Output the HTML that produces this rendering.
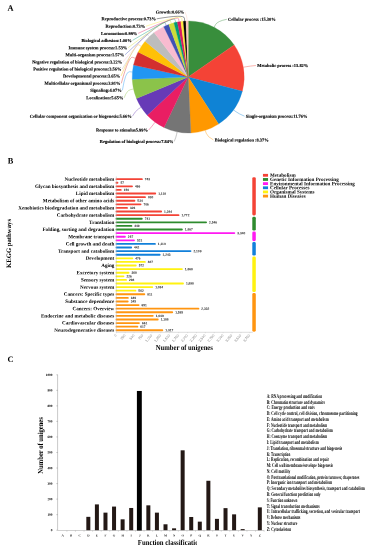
<!DOCTYPE html>
<html><head><meta charset="utf-8"><title>Figure</title>
<style>
html,body{margin:0;padding:0;background:#fff;}
body{width:371px;height:550px;overflow:hidden;}
svg{display:block;text-rendering:geometricPrecision;}
.sf{font-family:"Liberation Serif","DejaVu Serif",serif;}
.ss{font-family:"Liberation Sans","DejaVu Sans",sans-serif;font-weight:bold;}
</style></head><body>
<svg width="371" height="550" viewBox="0 0 371 550">
<rect width="371" height="550" fill="#fff"/>
<text class="sf" x="7.60" y="10.75" font-size="8.3" text-anchor="start" font-weight="bold" fill="#000"  transform="rotate(0.03 7.60 10.75)">A</text>
<text class="sf" x="7.70" y="163.50" font-size="8.3" text-anchor="start" font-weight="bold" fill="#000"  transform="rotate(0.03 7.70 163.50)">B</text>
<text class="sf" x="7.50" y="362.00" font-size="8.3" text-anchor="start" font-weight="bold" fill="#000"  transform="rotate(0.03 7.50 362.00)">C</text>
<path d="M188.2,77.0 L188.20,21.00 A56.0,56.0 0 0 1 234.12,44.94 Z" fill="#388e3c" stroke="#388e3c" stroke-width="0.3" stroke-linejoin="round"/>
<path d="M188.2,77.0 L234.12,44.94 A56.0,56.0 0 0 1 242.33,91.34 Z" fill="#f44336" stroke="#f44336" stroke-width="0.3" stroke-linejoin="round"/>
<path d="M188.2,77.0 L242.33,91.34 A56.0,56.0 0 0 1 218.56,124.05 Z" fill="#0f83d5" stroke="#0f83d5" stroke-width="0.3" stroke-linejoin="round"/>
<path d="M188.2,77.0 L218.56,124.05 A56.0,56.0 0 0 1 190.84,132.94 Z" fill="#ff9800" stroke="#ff9800" stroke-width="0.3" stroke-linejoin="round"/>
<path d="M188.2,77.0 L190.84,132.94 A56.0,56.0 0 0 1 164.07,127.53 Z" fill="#757575" stroke="#757575" stroke-width="0.3" stroke-linejoin="round"/>
<path d="M188.2,77.0 L164.07,127.53 A56.0,56.0 0 0 1 147.19,115.13 Z" fill="#e91e63" stroke="#e91e63" stroke-width="0.3" stroke-linejoin="round"/>
<path d="M188.2,77.0 L147.19,115.13 A56.0,56.0 0 0 1 136.48,98.46 Z" fill="#673ab7" stroke="#673ab7" stroke-width="0.3" stroke-linejoin="round"/>
<path d="M188.2,77.0 L136.48,98.46 A56.0,56.0 0 0 1 132.24,79.15 Z" fill="#8bc34a" stroke="#8bc34a" stroke-width="0.3" stroke-linejoin="round"/>
<path d="M188.2,77.0 L132.24,79.15 A56.0,56.0 0 0 1 133.52,64.92 Z" fill="#2196f3" stroke="#2196f3" stroke-width="0.3" stroke-linejoin="round"/>
<path d="M188.2,77.0 L133.52,64.92 A56.0,56.0 0 0 1 138.10,51.98 Z" fill="#d32f2f" stroke="#d32f2f" stroke-width="0.3" stroke-linejoin="round"/>
<path d="M188.2,77.0 L138.10,51.98 A56.0,56.0 0 0 1 145.10,41.25 Z" fill="#ffc107" stroke="#ffc107" stroke-width="0.3" stroke-linejoin="round"/>
<path d="M188.2,77.0 L145.10,41.25 A56.0,56.0 0 0 1 154.10,32.58 Z" fill="#bdbdbd" stroke="#bdbdbd" stroke-width="0.3" stroke-linejoin="round"/>
<path d="M188.2,77.0 L154.10,32.58 A56.0,56.0 0 0 1 163.72,26.63 Z" fill="#f8bbd0" stroke="#f8bbd0" stroke-width="0.3" stroke-linejoin="round"/>
<path d="M188.2,77.0 L163.72,26.63 A56.0,56.0 0 0 1 168.80,24.47 Z" fill="#3f51b5" stroke="#3f51b5" stroke-width="0.3" stroke-linejoin="round"/>
<path d="M188.2,77.0 L168.80,24.47 A56.0,56.0 0 0 1 173.93,22.85 Z" fill="#cddc39" stroke="#cddc39" stroke-width="0.3" stroke-linejoin="round"/>
<path d="M188.2,77.0 L173.93,22.85 A56.0,56.0 0 0 1 177.36,22.06 Z" fill="#009b77" stroke="#009b77" stroke-width="0.3" stroke-linejoin="round"/>
<path d="M188.2,77.0 L177.36,22.06 A56.0,56.0 0 0 1 180.80,21.49 Z" fill="#d81b60" stroke="#d81b60" stroke-width="0.3" stroke-linejoin="round"/>
<path d="M188.2,77.0 L180.80,21.49 A56.0,56.0 0 0 1 183.35,21.21 Z" fill="#ffeb3b" stroke="#ffeb3b" stroke-width="0.3" stroke-linejoin="round"/>
<path d="M188.2,77.0 L183.35,21.21 A56.0,56.0 0 0 1 185.91,21.05 Z" fill="#000000" stroke="#000000" stroke-width="0.3" stroke-linejoin="round"/>
<path d="M188.2,77.0 L185.91,21.05 A56.0,56.0 0 0 1 188.24,21.00 Z" fill="#f9c9bb" stroke="#f9c9bb" stroke-width="0.3" stroke-linejoin="round"/>
<text class="sf" x="228.10" y="20.75" font-size="4.45" text-anchor="start" font-weight="bold" fill="#000" stroke="#000" stroke-width="0.12" transform="rotate(0.03 228.10 20.75)">Cellular process :15.30%</text>
<path d="M214.19,27.17 L215.48,24.69 Q217.33,21.14 226.80,19.30" fill="none" stroke="#388e3c" stroke-width="0.4"/>
<text class="sf" x="257.20" y="67.00" font-size="4.45" text-anchor="start" font-weight="bold" fill="#000" stroke="#000" stroke-width="0.12" transform="rotate(0.03 257.20 67.00)">Metabolic process :13.82%</text>
<path d="M243.54,67.20 L246.30,66.71 Q250.10,66.04 255.90,65.50" fill="none" stroke="#f44336" stroke-width="0.4"/>
<text class="sf" x="245.80" y="117.75" font-size="4.45" text-anchor="start" font-weight="bold" fill="#000" stroke="#000" stroke-width="0.12" transform="rotate(0.03 245.80 117.75)">Single-organism process:11.76%</text>
<path d="M233.67,110.03 L235.93,111.68 Q239.05,113.95 244.50,116.20" fill="none" stroke="#0f83d5" stroke-width="0.4"/>
<text class="sf" x="214.70" y="141.50" font-size="4.45" text-anchor="start" font-weight="bold" fill="#000" stroke="#000" stroke-width="0.12" transform="rotate(0.03 214.70 141.50)">Biological regulation :8.37%</text>
<path d="M205.35,130.52 L206.20,133.19 Q207.36,136.80 213.40,139.90" fill="none" stroke="#ff9800" stroke-width="0.4"/>
<text class="sf" x="173.40" y="143.00" font-size="4.45" text-anchor="end" font-weight="bold" fill="#000" stroke="#000" stroke-width="0.12" transform="rotate(0.03 173.40 143.00)">Regulation of biological process:7.84%</text>
<path d="M177.08,132.09 L176.63,134.30 Q176.05,137.20 174.20,141.50" fill="none" stroke="#757575" stroke-width="0.4"/>
<text class="sf" x="147.90" y="131.50" font-size="4.45" text-anchor="end" font-weight="bold" fill="#000" stroke="#000" stroke-width="0.12" transform="rotate(0.03 147.90 131.50)">Response to stimulus5.99%</text>
<path d="M154.92,122.29 L153.58,124.12 Q151.82,126.52 148.70,130.00" fill="none" stroke="#e91e63" stroke-width="0.4"/>
<text class="sf" x="131.60" y="117.75" font-size="4.45" text-anchor="end" font-weight="bold" fill="#000" stroke="#000" stroke-width="0.12" transform="rotate(0.03 131.60 117.75)">Cellular component organization or biogenesis:5.66%</text>
<path d="M140.92,107.38 L138.56,108.89 Q135.41,110.92 132.40,116.20" fill="none" stroke="#673ab7" stroke-width="0.4"/>
<text class="sf" x="123.40" y="99.25" font-size="4.45" text-anchor="end" font-weight="bold" fill="#000" stroke="#000" stroke-width="0.12" transform="rotate(0.03 123.40 99.25)">Localization:5.65%</text>
<path d="M133.30,89.04 L130.57,89.64 Q126.71,90.48 124.20,97.80" fill="none" stroke="#8bc34a" stroke-width="0.4"/>
<text class="sf" x="121.60" y="91.75" font-size="4.45" text-anchor="end" font-weight="bold" fill="#000" stroke="#000" stroke-width="0.12" transform="rotate(0.03 121.60 91.75)">Signaling:4.07%</text>
<path d="M132.23,71.97 L129.44,71.72 Q125.45,71.37 122.40,90.30" fill="none" stroke="#2196f3" stroke-width="0.4"/>
<text class="sf" x="120.50" y="84.75" font-size="4.45" text-anchor="end" font-weight="bold" fill="#000" stroke="#000" stroke-width="0.12" transform="rotate(0.03 120.50 84.75)">Multicellular organismal process:3.91%</text>
<path d="M135.22,58.25 L132.58,57.31 Q128.81,55.98 121.30,83.30" fill="none" stroke="#d32f2f" stroke-width="0.4"/>
<text class="sf" x="120.20" y="77.50" font-size="4.45" text-anchor="end" font-weight="bold" fill="#000" stroke="#000" stroke-width="0.12" transform="rotate(0.03 120.20 77.50)">Developmental process:3.65%</text>
<path d="M141.12,46.31 L138.78,44.78 Q135.42,42.59 121.00,76.00" fill="none" stroke="#ffc107" stroke-width="0.4"/>
<text class="sf" x="121.40" y="70.50" font-size="4.45" text-anchor="end" font-weight="bold" fill="#000" stroke="#000" stroke-width="0.12" transform="rotate(0.03 121.40 70.50)">Positive regulation of biological process:3.56%</text>
<path d="M149.22,36.52 L147.27,34.50 Q144.50,31.62 122.20,69.00" fill="none" stroke="#bdbdbd" stroke-width="0.4"/>
<text class="sf" x="122.10" y="63.50" font-size="4.45" text-anchor="end" font-weight="bold" fill="#000" stroke="#000" stroke-width="0.12" transform="rotate(0.03 122.10 63.50)">Negative regulation of biological process:3.22%</text>
<path d="M158.66,29.19 L157.18,26.81 Q155.08,23.41 122.90,62.00" fill="none" stroke="#f8bbd0" stroke-width="0.4"/>
<text class="sf" x="124.20" y="56.25" font-size="4.45" text-anchor="end" font-weight="bold" fill="#000" stroke="#000" stroke-width="0.12" transform="rotate(0.03 124.20 56.25)">Multi-organism process:1.57%</text>
<path d="M166.16,25.30 L165.06,22.73 Q163.49,19.05 125.00,54.80" fill="none" stroke="#3f51b5" stroke-width="0.4"/>
<text class="sf" x="127.30" y="49.25" font-size="4.45" text-anchor="end" font-weight="bold" fill="#000" stroke="#000" stroke-width="0.12" transform="rotate(0.03 127.30 49.25)">Immune system process:1.53%</text>
<path d="M171.29,23.41 L170.44,20.74 Q169.24,16.92 128.10,47.70" fill="none" stroke="#cddc39" stroke-width="0.4"/>
<text class="sf" x="131.70" y="42.00" font-size="4.45" text-anchor="end" font-weight="bold" fill="#000" stroke="#000" stroke-width="0.12" transform="rotate(0.03 131.70 42.00)">Biological adhesion:1.00%</text>
<path d="M175.60,22.23 L174.97,19.50 Q174.07,15.60 132.50,40.40" fill="none" stroke="#009b77" stroke-width="0.4"/>
<text class="sf" x="137.30" y="35.00" font-size="4.45" text-anchor="end" font-weight="bold" fill="#000" stroke="#000" stroke-width="0.12" transform="rotate(0.03 137.30 35.00)">Locomotion:0.99%</text>
<path d="M179.04,21.55 L178.59,18.79 Q177.93,14.84 138.10,33.40" fill="none" stroke="#d81b60" stroke-width="0.4"/>
<text class="sf" x="145.20" y="27.75" font-size="4.45" text-anchor="end" font-weight="bold" fill="#000" stroke="#000" stroke-width="0.12" transform="rotate(0.03 145.20 27.75)">Reproduction:0.73%</text>
<path d="M182.05,21.14 L181.74,18.35 Q181.31,14.38 146.00,26.20" fill="none" stroke="#ffeb3b" stroke-width="0.4"/>
<text class="sf" x="155.90" y="20.25" font-size="4.45" text-anchor="end" font-weight="bold" fill="#000" stroke="#000" stroke-width="0.12" transform="rotate(0.03 155.90 20.25)">Reproductive process:0.73%</text>
<path d="M184.62,20.91 L184.44,18.12 Q184.18,14.13 156.70,18.80" fill="none" stroke="#000000" stroke-width="0.4"/>
<text class="sf" x="184.10" y="13.50" font-size="4.45" text-anchor="end" font-weight="bold" fill="#000" stroke="#000" stroke-width="0.12" transform="rotate(0.03 184.10 13.50)">Growth:0.66%</text>
<path d="M187.07,20.81 L187.03,18.74 Q186.97,16.02 184.90,12.00" fill="none" stroke="#f9c9bb" stroke-width="0.4"/>
<line x1="116.50" y1="179.15" x2="141.88" y2="179.15" stroke="#f44336" stroke-width="1.85" stroke-linecap="round"/>
<text class="ss" x="144.80" y="180.25" font-size="3.2" text-anchor="start" font-weight="bold" fill="#222"  transform="rotate(0.03 144.80 180.25)">743</text>
<text class="sf" x="114.30" y="180.75" font-size="5.12" text-anchor="end" font-weight="bold" fill="#000"  transform="rotate(0.03 114.30 180.75)">Nucleotide metabolism</text>
<line x1="116.50" y1="182.75" x2="117.45" y2="182.75" stroke="#f44336" stroke-width="1.85" stroke-linecap="round"/>
<text class="ss" x="120.38" y="183.75" font-size="3.2" text-anchor="start" font-weight="bold" fill="#222"  transform="rotate(0.03 120.38 183.75)">57</text>
<line x1="116.50" y1="186.35" x2="132.01" y2="186.35" stroke="#f44336" stroke-width="1.85" stroke-linecap="round"/>
<text class="ss" x="134.94" y="187.50" font-size="3.2" text-anchor="start" font-weight="bold" fill="#222"  transform="rotate(0.03 134.94 187.50)">466</text>
<text class="sf" x="114.30" y="188.00" font-size="5.12" text-anchor="end" font-weight="bold" fill="#000"  transform="rotate(0.03 114.30 188.00)">Glycan biosynthesis and metabolism</text>
<line x1="116.50" y1="189.94" x2="120.77" y2="189.94" stroke="#f44336" stroke-width="1.85" stroke-linecap="round"/>
<text class="ss" x="123.69" y="191.00" font-size="3.2" text-anchor="start" font-weight="bold" fill="#222"  transform="rotate(0.03 123.69 191.00)">150</text>
<line x1="116.50" y1="193.54" x2="155.23" y2="193.54" stroke="#f44336" stroke-width="1.85" stroke-linecap="round"/>
<text class="ss" x="158.15" y="194.75" font-size="3.2" text-anchor="start" font-weight="bold" fill="#222"  transform="rotate(0.03 158.15 194.75)">1,118</text>
<text class="sf" x="114.30" y="195.00" font-size="5.12" text-anchor="end" font-weight="bold" fill="#000"  transform="rotate(0.03 114.30 195.00)">Lipid metabolism</text>
<line x1="116.50" y1="197.14" x2="144.97" y2="197.14" stroke="#f44336" stroke-width="1.85" stroke-linecap="round"/>
<text class="ss" x="147.90" y="198.25" font-size="3.2" text-anchor="start" font-weight="bold" fill="#222"  transform="rotate(0.03 147.90 198.25)">830</text>
<line x1="116.50" y1="200.74" x2="134.44" y2="200.74" stroke="#f44336" stroke-width="1.85" stroke-linecap="round"/>
<text class="ss" x="137.36" y="201.75" font-size="3.2" text-anchor="start" font-weight="bold" fill="#222"  transform="rotate(0.03 137.36 201.75)">534</text>
<text class="sf" x="114.30" y="202.25" font-size="5.12" text-anchor="end" font-weight="bold" fill="#000"  transform="rotate(0.03 114.30 202.25)">Metabolism of other amino acids</text>
<line x1="116.50" y1="204.34" x2="140.56" y2="204.34" stroke="#f44336" stroke-width="1.85" stroke-linecap="round"/>
<text class="ss" x="143.48" y="205.50" font-size="3.2" text-anchor="start" font-weight="bold" fill="#222"  transform="rotate(0.03 143.48 205.50)">706</text>
<line x1="116.50" y1="207.93" x2="127.03" y2="207.93" stroke="#f44336" stroke-width="1.85" stroke-linecap="round"/>
<text class="ss" x="129.96" y="209.00" font-size="3.2" text-anchor="start" font-weight="bold" fill="#222"  transform="rotate(0.03 129.96 209.00)">326</text>
<text class="sf" x="114.30" y="209.50" font-size="5.12" text-anchor="end" font-weight="bold" fill="#000"  transform="rotate(0.03 114.30 209.50)">Xenobiotics biodegradation and metabolism</text>
<line x1="116.50" y1="211.53" x2="161.14" y2="211.53" stroke="#f44336" stroke-width="1.85" stroke-linecap="round"/>
<text class="ss" x="164.06" y="212.75" font-size="3.2" text-anchor="start" font-weight="bold" fill="#222"  transform="rotate(0.03 164.06 212.75)">1,284</text>
<line x1="116.50" y1="215.13" x2="178.51" y2="215.13" stroke="#f44336" stroke-width="1.85" stroke-linecap="round"/>
<text class="ss" x="181.43" y="216.25" font-size="3.2" text-anchor="start" font-weight="bold" fill="#222"  transform="rotate(0.03 181.43 216.25)">1,772</text>
<text class="sf" x="114.30" y="216.75" font-size="5.12" text-anchor="end" font-weight="bold" fill="#000"  transform="rotate(0.03 114.30 216.75)">Carbohydrate metabolism</text>
<line x1="116.50" y1="218.73" x2="141.80" y2="218.73" stroke="#2e8b2e" stroke-width="1.85" stroke-linecap="round"/>
<text class="ss" x="144.73" y="219.75" font-size="3.2" text-anchor="start" font-weight="bold" fill="#222"  transform="rotate(0.03 144.73 219.75)">741</text>
<line x1="116.50" y1="222.33" x2="206.06" y2="222.33" stroke="#2e8b2e" stroke-width="1.85" stroke-linecap="round"/>
<text class="ss" x="208.99" y="223.50" font-size="3.2" text-anchor="start" font-weight="bold" fill="#222"  transform="rotate(0.03 208.99 223.50)">2,546</text>
<text class="sf" x="114.30" y="224.00" font-size="5.12" text-anchor="end" font-weight="bold" fill="#000"  transform="rotate(0.03 114.30 224.00)">Translation</text>
<line x1="116.50" y1="225.92" x2="131.41" y2="225.92" stroke="#2e8b2e" stroke-width="1.85" stroke-linecap="round"/>
<text class="ss" x="134.33" y="227.00" font-size="3.2" text-anchor="start" font-weight="bold" fill="#222"  transform="rotate(0.03 134.33 227.00)">449</text>
<line x1="116.50" y1="229.52" x2="181.89" y2="229.52" stroke="#2e8b2e" stroke-width="1.85" stroke-linecap="round"/>
<text class="ss" x="184.82" y="230.50" font-size="3.2" text-anchor="start" font-weight="bold" fill="#222"  transform="rotate(0.03 184.82 230.50)">1,867</text>
<text class="sf" x="114.30" y="231.00" font-size="5.12" text-anchor="end" font-weight="bold" fill="#000"  transform="rotate(0.03 114.30 231.00)">Folding, sorting and degradation</text>
<line x1="116.50" y1="233.12" x2="234.33" y2="233.12" stroke="#ff1af2" stroke-width="1.85" stroke-linecap="round"/>
<text class="ss" x="237.25" y="234.25" font-size="3.2" text-anchor="start" font-weight="bold" fill="#222"  transform="rotate(0.03 237.25 234.25)">3,340</text>
<line x1="116.50" y1="236.72" x2="124.93" y2="236.72" stroke="#ff1af2" stroke-width="1.85" stroke-linecap="round"/>
<text class="ss" x="127.86" y="237.75" font-size="3.2" text-anchor="start" font-weight="bold" fill="#222"  transform="rotate(0.03 127.86 237.75)">267</text>
<text class="sf" x="114.30" y="238.25" font-size="5.12" text-anchor="end" font-weight="bold" fill="#000"  transform="rotate(0.03 114.30 238.25)">Membrane transport</text>
<line x1="116.50" y1="240.32" x2="133.97" y2="240.32" stroke="#ff1af2" stroke-width="1.85" stroke-linecap="round"/>
<text class="ss" x="136.90" y="241.50" font-size="3.2" text-anchor="start" font-weight="bold" fill="#222"  transform="rotate(0.03 136.90 241.50)">521</text>
<line x1="116.50" y1="243.91" x2="154.94" y2="243.91" stroke="#1280da" stroke-width="1.85" stroke-linecap="round"/>
<text class="ss" x="157.87" y="245.00" font-size="3.2" text-anchor="start" font-weight="bold" fill="#222"  transform="rotate(0.03 157.87 245.00)">1,110</text>
<text class="sf" x="114.30" y="245.50" font-size="5.12" text-anchor="end" font-weight="bold" fill="#000"  transform="rotate(0.03 114.30 245.50)">Cell growth and death</text>
<line x1="116.50" y1="247.51" x2="131.16" y2="247.51" stroke="#1280da" stroke-width="1.85" stroke-linecap="round"/>
<text class="ss" x="134.09" y="248.50" font-size="3.2" text-anchor="start" font-weight="bold" fill="#222"  transform="rotate(0.03 134.09 248.50)">442</text>
<line x1="116.50" y1="251.11" x2="190.51" y2="251.11" stroke="#1280da" stroke-width="1.85" stroke-linecap="round"/>
<text class="ss" x="193.43" y="252.25" font-size="3.2" text-anchor="start" font-weight="bold" fill="#222"  transform="rotate(0.03 193.43 252.25)">2,109</text>
<text class="sf" x="114.30" y="252.75" font-size="5.12" text-anchor="end" font-weight="bold" fill="#000"  transform="rotate(0.03 114.30 252.75)">Transport and catabolism</text>
<line x1="116.50" y1="254.71" x2="159.68" y2="254.71" stroke="#1280da" stroke-width="1.85" stroke-linecap="round"/>
<text class="ss" x="162.60" y="255.75" font-size="3.2" text-anchor="start" font-weight="bold" fill="#222"  transform="rotate(0.03 162.60 255.75)">1,243</text>
<line x1="116.50" y1="258.31" x2="132.37" y2="258.31" stroke="#fff210" stroke-width="1.85" stroke-linecap="round"/>
<text class="ss" x="135.30" y="259.50" font-size="3.2" text-anchor="start" font-weight="bold" fill="#222"  transform="rotate(0.03 135.30 259.50)">476</text>
<text class="sf" x="114.30" y="259.75" font-size="5.12" text-anchor="end" font-weight="bold" fill="#000"  transform="rotate(0.03 114.30 259.75)">Development</text>
<line x1="116.50" y1="261.90" x2="144.87" y2="261.90" stroke="#fff210" stroke-width="1.85" stroke-linecap="round"/>
<text class="ss" x="147.79" y="263.00" font-size="3.2" text-anchor="start" font-weight="bold" fill="#222"  transform="rotate(0.03 147.79 263.00)">827</text>
<line x1="116.50" y1="265.50" x2="135.79" y2="265.50" stroke="#fff210" stroke-width="1.85" stroke-linecap="round"/>
<text class="ss" x="138.71" y="266.50" font-size="3.2" text-anchor="start" font-weight="bold" fill="#222"  transform="rotate(0.03 138.71 266.50)">572</text>
<text class="sf" x="114.30" y="267.00" font-size="5.12" text-anchor="end" font-weight="bold" fill="#000"  transform="rotate(0.03 114.30 267.00)">Aging</text>
<line x1="116.50" y1="269.10" x2="181.93" y2="269.10" stroke="#fff210" stroke-width="1.85" stroke-linecap="round"/>
<text class="ss" x="184.85" y="270.25" font-size="3.2" text-anchor="start" font-weight="bold" fill="#222"  transform="rotate(0.03 184.85 270.25)">1,868</text>
<line x1="116.50" y1="272.70" x2="128.53" y2="272.70" stroke="#fff210" stroke-width="1.85" stroke-linecap="round"/>
<text class="ss" x="131.45" y="273.75" font-size="3.2" text-anchor="start" font-weight="bold" fill="#222"  transform="rotate(0.03 131.45 273.75)">368</text>
<text class="sf" x="114.30" y="274.25" font-size="5.12" text-anchor="end" font-weight="bold" fill="#000"  transform="rotate(0.03 114.30 274.25)">Excretory system</text>
<line x1="116.50" y1="276.30" x2="123.47" y2="276.30" stroke="#fff210" stroke-width="1.85" stroke-linecap="round"/>
<text class="ss" x="126.40" y="277.50" font-size="3.2" text-anchor="start" font-weight="bold" fill="#222"  transform="rotate(0.03 126.40 277.50)">226</text>
<line x1="116.50" y1="279.89" x2="126.03" y2="279.89" stroke="#fff210" stroke-width="1.85" stroke-linecap="round"/>
<text class="ss" x="128.96" y="281.00" font-size="3.2" text-anchor="start" font-weight="bold" fill="#222"  transform="rotate(0.03 128.96 281.00)">298</text>
<text class="sf" x="114.30" y="281.50" font-size="5.12" text-anchor="end" font-weight="bold" fill="#000"  transform="rotate(0.03 114.30 281.50)">Sensory system</text>
<line x1="116.50" y1="283.49" x2="182.99" y2="283.49" stroke="#fff210" stroke-width="1.85" stroke-linecap="round"/>
<text class="ss" x="185.92" y="284.50" font-size="3.2" text-anchor="start" font-weight="bold" fill="#222"  transform="rotate(0.03 185.92 284.50)">1,898</text>
<line x1="116.50" y1="287.09" x2="152.24" y2="287.09" stroke="#fff210" stroke-width="1.85" stroke-linecap="round"/>
<text class="ss" x="155.16" y="288.25" font-size="3.2" text-anchor="start" font-weight="bold" fill="#222"  transform="rotate(0.03 155.16 288.25)">1,034</text>
<text class="sf" x="114.30" y="288.75" font-size="5.12" text-anchor="end" font-weight="bold" fill="#000"  transform="rotate(0.03 114.30 288.75)">Nervous system</text>
<line x1="116.50" y1="290.69" x2="135.43" y2="290.69" stroke="#fff210" stroke-width="1.85" stroke-linecap="round"/>
<text class="ss" x="138.36" y="291.75" font-size="3.2" text-anchor="start" font-weight="bold" fill="#222"  transform="rotate(0.03 138.36 291.75)">562</text>
<line x1="116.50" y1="294.29" x2="144.30" y2="294.29" stroke="#ff9510" stroke-width="1.85" stroke-linecap="round"/>
<text class="ss" x="147.22" y="295.50" font-size="3.2" text-anchor="start" font-weight="bold" fill="#222"  transform="rotate(0.03 147.22 295.50)">811</text>
<text class="sf" x="114.30" y="295.75" font-size="5.12" text-anchor="end" font-weight="bold" fill="#000"  transform="rotate(0.03 114.30 295.75)">Cancers: Specific types</text>
<line x1="116.50" y1="297.88" x2="127.85" y2="297.88" stroke="#ff9510" stroke-width="1.85" stroke-linecap="round"/>
<text class="ss" x="130.77" y="299.00" font-size="3.2" text-anchor="start" font-weight="bold" fill="#222"  transform="rotate(0.03 130.77 299.00)">349</text>
<line x1="116.50" y1="301.48" x2="127.71" y2="301.48" stroke="#ff9510" stroke-width="1.85" stroke-linecap="round"/>
<text class="ss" x="130.63" y="302.50" font-size="3.2" text-anchor="start" font-weight="bold" fill="#222"  transform="rotate(0.03 130.63 302.50)">345</text>
<text class="sf" x="114.30" y="303.00" font-size="5.12" text-anchor="end" font-weight="bold" fill="#000"  transform="rotate(0.03 114.30 303.00)">Substance dependence</text>
<line x1="116.50" y1="305.08" x2="138.60" y2="305.08" stroke="#ff9510" stroke-width="1.85" stroke-linecap="round"/>
<text class="ss" x="141.53" y="306.25" font-size="3.2" text-anchor="start" font-weight="bold" fill="#222"  transform="rotate(0.03 141.53 306.25)">651</text>
<line x1="116.50" y1="308.68" x2="198.44" y2="308.68" stroke="#ff9510" stroke-width="1.85" stroke-linecap="round"/>
<text class="ss" x="201.37" y="309.75" font-size="3.2" text-anchor="start" font-weight="bold" fill="#222"  transform="rotate(0.03 201.37 309.75)">2,332</text>
<text class="sf" x="114.30" y="310.25" font-size="5.12" text-anchor="end" font-weight="bold" fill="#000"  transform="rotate(0.03 114.30 310.25)">Cancers: Overview</text>
<line x1="116.50" y1="312.28" x2="172.21" y2="312.28" stroke="#ff9510" stroke-width="1.85" stroke-linecap="round"/>
<text class="ss" x="175.13" y="313.50" font-size="3.2" text-anchor="start" font-weight="bold" fill="#222"  transform="rotate(0.03 175.13 313.50)">1,595</text>
<line x1="116.50" y1="315.87" x2="152.77" y2="315.87" stroke="#ff9510" stroke-width="1.85" stroke-linecap="round"/>
<text class="ss" x="155.69" y="317.00" font-size="3.2" text-anchor="start" font-weight="bold" fill="#222"  transform="rotate(0.03 155.69 317.00)">1,049</text>
<text class="sf" x="114.30" y="317.50" font-size="5.12" text-anchor="end" font-weight="bold" fill="#000"  transform="rotate(0.03 114.30 317.50)">Endocrine and metabolic diseases</text>
<line x1="116.50" y1="319.47" x2="157.72" y2="319.47" stroke="#ff9510" stroke-width="1.85" stroke-linecap="round"/>
<text class="ss" x="160.64" y="320.50" font-size="3.2" text-anchor="start" font-weight="bold" fill="#222"  transform="rotate(0.03 160.64 320.50)">1,188</text>
<line x1="116.50" y1="323.07" x2="138.96" y2="323.07" stroke="#ff9510" stroke-width="1.85" stroke-linecap="round"/>
<text class="ss" x="141.88" y="324.25" font-size="3.2" text-anchor="start" font-weight="bold" fill="#222"  transform="rotate(0.03 141.88 324.25)">661</text>
<text class="sf" x="114.30" y="324.50" font-size="5.12" text-anchor="end" font-weight="bold" fill="#000"  transform="rotate(0.03 114.30 324.50)">Cardiovascular diseases</text>
<line x1="116.50" y1="326.67" x2="137.39" y2="326.67" stroke="#ff9510" stroke-width="1.85" stroke-linecap="round"/>
<text class="ss" x="140.32" y="327.75" font-size="3.2" text-anchor="start" font-weight="bold" fill="#222"  transform="rotate(0.03 140.32 327.75)">617</text>
<line x1="116.50" y1="330.27" x2="162.31" y2="330.27" stroke="#ff9510" stroke-width="1.85" stroke-linecap="round"/>
<text class="ss" x="165.24" y="331.25" font-size="3.2" text-anchor="start" font-weight="bold" fill="#222"  transform="rotate(0.03 165.24 331.25)">1,317</text>
<text class="sf" x="114.30" y="331.75" font-size="5.12" text-anchor="end" font-weight="bold" fill="#000"  transform="rotate(0.03 114.30 331.75)">Neurodegenerative diseases</text>
<line x1="116.3" y1="176.5" x2="116.3" y2="332.3" stroke="#b5b5b5" stroke-width="0.45"/>
<line x1="116.3" y1="332.3" x2="252.8" y2="332.3" stroke="#b5b5b5" stroke-width="0.45"/>
<line x1="116.35" y1="332.3" x2="116.35" y2="333.2" stroke="#b5b5b5" stroke-width="0.35"/>
<text class="ss" font-size="3.5" style="font-weight:normal" fill="#777" text-anchor="end" transform="translate(116.85,335.60) rotate(-50)">0</text>
<line x1="125.25" y1="332.3" x2="125.25" y2="333.2" stroke="#b5b5b5" stroke-width="0.35"/>
<text class="ss" font-size="3.5" style="font-weight:normal" fill="#777" text-anchor="end" transform="translate(125.75,335.60) rotate(-50)">250</text>
<line x1="134.15" y1="332.3" x2="134.15" y2="333.2" stroke="#b5b5b5" stroke-width="0.35"/>
<text class="ss" font-size="3.5" style="font-weight:normal" fill="#777" text-anchor="end" transform="translate(134.65,335.60) rotate(-50)">500</text>
<line x1="143.05" y1="332.3" x2="143.05" y2="333.2" stroke="#b5b5b5" stroke-width="0.35"/>
<text class="ss" font-size="3.5" style="font-weight:normal" fill="#777" text-anchor="end" transform="translate(143.55,335.60) rotate(-50)">750</text>
<line x1="151.95" y1="332.3" x2="151.95" y2="333.2" stroke="#b5b5b5" stroke-width="0.35"/>
<text class="ss" font-size="3.5" style="font-weight:normal" fill="#777" text-anchor="end" transform="translate(152.45,335.60) rotate(-50)">1,000</text>
<line x1="160.85" y1="332.3" x2="160.85" y2="333.2" stroke="#b5b5b5" stroke-width="0.35"/>
<text class="ss" font-size="3.5" style="font-weight:normal" fill="#777" text-anchor="end" transform="translate(161.35,335.60) rotate(-50)">1,250</text>
<line x1="169.75" y1="332.3" x2="169.75" y2="333.2" stroke="#b5b5b5" stroke-width="0.35"/>
<text class="ss" font-size="3.5" style="font-weight:normal" fill="#777" text-anchor="end" transform="translate(170.25,335.60) rotate(-50)">1,500</text>
<line x1="178.65" y1="332.3" x2="178.65" y2="333.2" stroke="#b5b5b5" stroke-width="0.35"/>
<text class="ss" font-size="3.5" style="font-weight:normal" fill="#777" text-anchor="end" transform="translate(179.15,335.60) rotate(-50)">1,750</text>
<line x1="187.55" y1="332.3" x2="187.55" y2="333.2" stroke="#b5b5b5" stroke-width="0.35"/>
<text class="ss" font-size="3.5" style="font-weight:normal" fill="#777" text-anchor="end" transform="translate(188.05,335.60) rotate(-50)">2,000</text>
<line x1="196.45" y1="332.3" x2="196.45" y2="333.2" stroke="#b5b5b5" stroke-width="0.35"/>
<text class="ss" font-size="3.5" style="font-weight:normal" fill="#777" text-anchor="end" transform="translate(196.95,335.60) rotate(-50)">2,250</text>
<line x1="205.35" y1="332.3" x2="205.35" y2="333.2" stroke="#b5b5b5" stroke-width="0.35"/>
<text class="ss" font-size="3.5" style="font-weight:normal" fill="#777" text-anchor="end" transform="translate(205.85,335.60) rotate(-50)">2,500</text>
<line x1="214.25" y1="332.3" x2="214.25" y2="333.2" stroke="#b5b5b5" stroke-width="0.35"/>
<text class="ss" font-size="3.5" style="font-weight:normal" fill="#777" text-anchor="end" transform="translate(214.75,335.60) rotate(-50)">2,750</text>
<line x1="223.15" y1="332.3" x2="223.15" y2="333.2" stroke="#b5b5b5" stroke-width="0.35"/>
<text class="ss" font-size="3.5" style="font-weight:normal" fill="#777" text-anchor="end" transform="translate(223.65,335.60) rotate(-50)">3,000</text>
<line x1="232.05" y1="332.3" x2="232.05" y2="333.2" stroke="#b5b5b5" stroke-width="0.35"/>
<text class="ss" font-size="3.5" style="font-weight:normal" fill="#777" text-anchor="end" transform="translate(232.55,335.60) rotate(-50)">3,250</text>
<line x1="240.95" y1="332.3" x2="240.95" y2="333.2" stroke="#b5b5b5" stroke-width="0.35"/>
<text class="ss" font-size="3.5" style="font-weight:normal" fill="#777" text-anchor="end" transform="translate(241.45,335.60) rotate(-50)">3,500</text>
<line x1="249.85" y1="332.3" x2="249.85" y2="333.2" stroke="#b5b5b5" stroke-width="0.35"/>
<text class="ss" font-size="3.5" style="font-weight:normal" fill="#777" text-anchor="end" transform="translate(250.35,335.60) rotate(-50)">3,750</text>
<text class="sf" x="184.30" y="349.90" font-size="7.7" text-anchor="middle" font-weight="bold" fill="#000" textLength="57.20" lengthAdjust="spacingAndGlyphs" >Number of unigenes</text>
<text class="sf" font-size="6.7" font-weight="bold" text-anchor="middle" transform="translate(10.7,243.5) rotate(-90)" textLength="49" lengthAdjust="spacingAndGlyphs">KEGG pathways</text>
<rect x="252.3" y="177.2" width="3.5" height="38.30" rx="1.4" ry="1.4" fill="#f44336"/>
<rect x="252.3" y="216.8" width="3.5" height="13.80" rx="1.4" ry="1.4" fill="#2e8b2e"/>
<rect x="252.3" y="231.5" width="3.5" height="9.70" rx="1.4" ry="1.4" fill="#ff1af2"/>
<rect x="252.3" y="242.1" width="3.5" height="13.50" rx="1.4" ry="1.4" fill="#1280da"/>
<rect x="252.3" y="256.6" width="3.5" height="35.50" rx="1.4" ry="1.4" fill="#fff210"/>
<rect x="252.3" y="293.0" width="3.5" height="38.70" rx="1.4" ry="1.4" fill="#ff9510"/>
<rect x="262.95" y="173.90" width="5.1" height="2.8" fill="#f44336"/>
<text class="sf" x="270.00" y="176.75" font-size="5.08" text-anchor="start" font-weight="bold" fill="#000"  transform="rotate(0.03 270.00 176.75)">Metabolism</text>
<rect x="262.95" y="178.06" width="5.1" height="2.8" fill="#2e8b2e"/>
<text class="sf" x="270.00" y="181.00" font-size="5.08" text-anchor="start" font-weight="bold" fill="#000"  transform="rotate(0.03 270.00 181.00)">Genetic Information Processing</text>
<rect x="262.95" y="182.22" width="5.1" height="2.8" fill="#ff1af2"/>
<text class="sf" x="270.00" y="185.25" font-size="5.08" text-anchor="start" font-weight="bold" fill="#000"  transform="rotate(0.03 270.00 185.25)">Environmental Information Processing</text>
<rect x="262.95" y="186.38" width="5.1" height="2.8" fill="#1280da"/>
<text class="sf" x="270.00" y="189.25" font-size="5.08" text-anchor="start" font-weight="bold" fill="#000"  transform="rotate(0.03 270.00 189.25)">Cellular Processes</text>
<rect x="262.95" y="190.54" width="5.1" height="2.8" fill="#fff210"/>
<text class="sf" x="270.00" y="193.50" font-size="5.08" text-anchor="start" font-weight="bold" fill="#000"  transform="rotate(0.03 270.00 193.50)">Organismal Systems</text>
<rect x="262.95" y="194.70" width="5.1" height="2.8" fill="#ff9510"/>
<text class="sf" x="270.00" y="197.75" font-size="5.08" text-anchor="start" font-weight="bold" fill="#000"  transform="rotate(0.03 270.00 197.75)">Human Diseases</text>
<line x1="57.6" y1="374.6" x2="57.6" y2="530.2" stroke="#777" stroke-width="0.4"/>
<line x1="57.6" y1="530.5" x2="264.2" y2="530.5" stroke="#999" stroke-width="0.45"/>
<line x1="56.4" y1="530.20" x2="57.6" y2="530.20" stroke="#555" stroke-width="0.35"/>
<text class="sf" x="52.50" y="531.25" font-size="3.4" text-anchor="end" font-weight="bold" fill="#000"  transform="rotate(0.03 52.50 531.25)">0</text>
<line x1="56.4" y1="514.66" x2="57.6" y2="514.66" stroke="#555" stroke-width="0.35"/>
<text class="sf" x="52.50" y="515.75" font-size="3.4" text-anchor="end" font-weight="bold" fill="#000"  transform="rotate(0.03 52.50 515.75)">100</text>
<line x1="56.4" y1="499.12" x2="57.6" y2="499.12" stroke="#555" stroke-width="0.35"/>
<text class="sf" x="52.50" y="500.25" font-size="3.4" text-anchor="end" font-weight="bold" fill="#000"  transform="rotate(0.03 52.50 500.25)">200</text>
<line x1="56.4" y1="483.58" x2="57.6" y2="483.58" stroke="#555" stroke-width="0.35"/>
<text class="sf" x="52.50" y="484.75" font-size="3.4" text-anchor="end" font-weight="bold" fill="#000"  transform="rotate(0.03 52.50 484.75)">300</text>
<line x1="56.4" y1="468.04" x2="57.6" y2="468.04" stroke="#555" stroke-width="0.35"/>
<text class="sf" x="52.50" y="469.25" font-size="3.4" text-anchor="end" font-weight="bold" fill="#000"  transform="rotate(0.03 52.50 469.25)">400</text>
<line x1="56.4" y1="452.50" x2="57.6" y2="452.50" stroke="#555" stroke-width="0.35"/>
<text class="sf" x="52.50" y="453.50" font-size="3.4" text-anchor="end" font-weight="bold" fill="#000"  transform="rotate(0.03 52.50 453.50)">500</text>
<line x1="56.4" y1="436.96" x2="57.6" y2="436.96" stroke="#555" stroke-width="0.35"/>
<text class="sf" x="52.50" y="438.00" font-size="3.4" text-anchor="end" font-weight="bold" fill="#000"  transform="rotate(0.03 52.50 438.00)">600</text>
<line x1="56.4" y1="421.42" x2="57.6" y2="421.42" stroke="#555" stroke-width="0.35"/>
<text class="sf" x="52.50" y="422.50" font-size="3.4" text-anchor="end" font-weight="bold" fill="#000"  transform="rotate(0.03 52.50 422.50)">700</text>
<line x1="56.4" y1="405.88" x2="57.6" y2="405.88" stroke="#555" stroke-width="0.35"/>
<text class="sf" x="52.50" y="407.00" font-size="3.4" text-anchor="end" font-weight="bold" fill="#000"  transform="rotate(0.03 52.50 407.00)">800</text>
<line x1="56.4" y1="390.34" x2="57.6" y2="390.34" stroke="#555" stroke-width="0.35"/>
<text class="sf" x="52.50" y="391.50" font-size="3.4" text-anchor="end" font-weight="bold" fill="#000"  transform="rotate(0.03 52.50 391.50)">900</text>
<line x1="56.4" y1="374.80" x2="57.6" y2="374.80" stroke="#555" stroke-width="0.35"/>
<text class="sf" x="52.50" y="376.00" font-size="3.4" text-anchor="end" font-weight="bold" fill="#000"  transform="rotate(0.03 52.50 376.00)">1000</text>
<line x1="66.89" y1="530.5" x2="66.89" y2="531.7" stroke="#999" stroke-width="0.4"/>
<text class="sf" x="62.60" y="536.50" font-size="3.2" text-anchor="middle" font-weight="bold" fill="#222"  transform="rotate(0.03 62.60 536.50)">A</text>
<line x1="75.46" y1="530.5" x2="75.46" y2="531.7" stroke="#999" stroke-width="0.4"/>
<text class="sf" x="71.17" y="536.50" font-size="3.2" text-anchor="middle" font-weight="bold" fill="#222"  transform="rotate(0.03 71.17 536.50)">B</text>
<line x1="84.04" y1="530.5" x2="84.04" y2="531.7" stroke="#999" stroke-width="0.4"/>
<text class="sf" x="79.75" y="536.50" font-size="3.2" text-anchor="middle" font-weight="bold" fill="#222"  transform="rotate(0.03 79.75 536.50)">C</text>
<rect x="86.33" y="516.84" width="4.0" height="13.36" fill="#231815"/>
<line x1="92.61" y1="530.5" x2="92.61" y2="531.7" stroke="#999" stroke-width="0.4"/>
<text class="sf" x="88.33" y="536.50" font-size="3.2" text-anchor="middle" font-weight="bold" fill="#222"  transform="rotate(0.03 88.33 536.50)">D</text>
<rect x="94.90" y="504.40" width="4.0" height="25.80" fill="#231815"/>
<line x1="101.19" y1="530.5" x2="101.19" y2="531.7" stroke="#999" stroke-width="0.4"/>
<text class="sf" x="96.90" y="536.50" font-size="3.2" text-anchor="middle" font-weight="bold" fill="#222"  transform="rotate(0.03 96.90 536.50)">E</text>
<rect x="103.47" y="512.64" width="4.0" height="17.56" fill="#231815"/>
<line x1="109.76" y1="530.5" x2="109.76" y2="531.7" stroke="#999" stroke-width="0.4"/>
<text class="sf" x="105.47" y="536.50" font-size="3.2" text-anchor="middle" font-weight="bold" fill="#222"  transform="rotate(0.03 105.47 536.50)">F</text>
<rect x="112.05" y="506.58" width="4.0" height="23.62" fill="#231815"/>
<line x1="118.34" y1="530.5" x2="118.34" y2="531.7" stroke="#999" stroke-width="0.4"/>
<text class="sf" x="114.05" y="536.50" font-size="3.2" text-anchor="middle" font-weight="bold" fill="#222"  transform="rotate(0.03 114.05 536.50)">G</text>
<rect x="120.62" y="519.32" width="4.0" height="10.88" fill="#231815"/>
<line x1="126.91" y1="530.5" x2="126.91" y2="531.7" stroke="#999" stroke-width="0.4"/>
<text class="sf" x="122.62" y="536.50" font-size="3.2" text-anchor="middle" font-weight="bold" fill="#222"  transform="rotate(0.03 122.62 536.50)">H</text>
<rect x="129.20" y="507.98" width="4.0" height="22.22" fill="#231815"/>
<line x1="135.49" y1="530.5" x2="135.49" y2="531.7" stroke="#999" stroke-width="0.4"/>
<text class="sf" x="131.20" y="536.50" font-size="3.2" text-anchor="middle" font-weight="bold" fill="#222"  transform="rotate(0.03 131.20 536.50)">I</text>
<rect x="136.9" y="390.96" width="4.9" height="139.54" fill="#000"/>
<line x1="144.06" y1="530.5" x2="144.06" y2="531.7" stroke="#999" stroke-width="0.4"/>
<text class="sf" x="139.78" y="536.50" font-size="3.2" text-anchor="middle" font-weight="bold" fill="#222"  transform="rotate(0.03 139.78 536.50)">J</text>
<rect x="146.35" y="505.34" width="4.0" height="24.86" fill="#231815"/>
<line x1="152.64" y1="530.5" x2="152.64" y2="531.7" stroke="#999" stroke-width="0.4"/>
<text class="sf" x="148.35" y="536.50" font-size="3.2" text-anchor="middle" font-weight="bold" fill="#222"  transform="rotate(0.03 148.35 536.50)">K</text>
<rect x="154.92" y="512.64" width="4.0" height="17.56" fill="#231815"/>
<line x1="161.21" y1="530.5" x2="161.21" y2="531.7" stroke="#999" stroke-width="0.4"/>
<text class="sf" x="156.92" y="536.50" font-size="3.2" text-anchor="middle" font-weight="bold" fill="#222"  transform="rotate(0.03 156.92 536.50)">L</text>
<rect x="163.50" y="524.29" width="4.0" height="5.91" fill="#231815"/>
<line x1="169.79" y1="530.5" x2="169.79" y2="531.7" stroke="#999" stroke-width="0.4"/>
<text class="sf" x="165.50" y="536.50" font-size="3.2" text-anchor="middle" font-weight="bold" fill="#222"  transform="rotate(0.03 165.50 536.50)">M</text>
<rect x="172.07" y="528.34" width="4.0" height="1.86" fill="#231815"/>
<line x1="178.36" y1="530.5" x2="178.36" y2="531.7" stroke="#999" stroke-width="0.4"/>
<text class="sf" x="174.07" y="536.50" font-size="3.2" text-anchor="middle" font-weight="bold" fill="#222"  transform="rotate(0.03 174.07 536.50)">N</text>
<rect x="180.65" y="450.32" width="4.0" height="79.88" fill="#231815"/>
<line x1="186.94" y1="530.5" x2="186.94" y2="531.7" stroke="#999" stroke-width="0.4"/>
<text class="sf" x="182.65" y="536.50" font-size="3.2" text-anchor="middle" font-weight="bold" fill="#222"  transform="rotate(0.03 182.65 536.50)">O</text>
<rect x="189.22" y="516.99" width="4.0" height="13.21" fill="#231815"/>
<line x1="195.51" y1="530.5" x2="195.51" y2="531.7" stroke="#999" stroke-width="0.4"/>
<text class="sf" x="191.22" y="536.50" font-size="3.2" text-anchor="middle" font-weight="bold" fill="#222"  transform="rotate(0.03 191.22 536.50)">P</text>
<rect x="197.80" y="521.65" width="4.0" height="8.55" fill="#231815"/>
<line x1="204.09" y1="530.5" x2="204.09" y2="531.7" stroke="#999" stroke-width="0.4"/>
<text class="sf" x="199.80" y="536.50" font-size="3.2" text-anchor="middle" font-weight="bold" fill="#222"  transform="rotate(0.03 199.80 536.50)">Q</text>
<rect x="206.37" y="480.78" width="4.0" height="49.42" fill="#231815"/>
<line x1="212.66" y1="530.5" x2="212.66" y2="531.7" stroke="#999" stroke-width="0.4"/>
<text class="sf" x="208.37" y="536.50" font-size="3.2" text-anchor="middle" font-weight="bold" fill="#222"  transform="rotate(0.03 208.37 536.50)">R</text>
<rect x="214.95" y="518.86" width="4.0" height="11.34" fill="#231815"/>
<line x1="221.24" y1="530.5" x2="221.24" y2="531.7" stroke="#999" stroke-width="0.4"/>
<text class="sf" x="216.95" y="536.50" font-size="3.2" text-anchor="middle" font-weight="bold" fill="#222"  transform="rotate(0.03 216.95 536.50)">S</text>
<rect x="223.52" y="508.13" width="4.0" height="22.07" fill="#231815"/>
<line x1="229.81" y1="530.5" x2="229.81" y2="531.7" stroke="#999" stroke-width="0.4"/>
<text class="sf" x="225.52" y="536.50" font-size="3.2" text-anchor="middle" font-weight="bold" fill="#222"  transform="rotate(0.03 225.52 536.50)">T</text>
<rect x="232.10" y="514.35" width="4.0" height="15.85" fill="#231815"/>
<line x1="238.39" y1="530.5" x2="238.39" y2="531.7" stroke="#999" stroke-width="0.4"/>
<text class="sf" x="234.10" y="536.50" font-size="3.2" text-anchor="middle" font-weight="bold" fill="#222"  transform="rotate(0.03 234.10 536.50)">U</text>
<rect x="240.67" y="529.11" width="4.0" height="1.09" fill="#231815"/>
<line x1="246.96" y1="530.5" x2="246.96" y2="531.7" stroke="#999" stroke-width="0.4"/>
<text class="sf" x="242.67" y="536.50" font-size="3.2" text-anchor="middle" font-weight="bold" fill="#222"  transform="rotate(0.03 242.67 536.50)">V</text>
<line x1="255.54" y1="530.5" x2="255.54" y2="531.7" stroke="#999" stroke-width="0.4"/>
<text class="sf" x="251.25" y="536.50" font-size="3.2" text-anchor="middle" font-weight="bold" fill="#222"  transform="rotate(0.03 251.25 536.50)">Y</text>
<rect x="257.82" y="507.36" width="4.0" height="22.84" fill="#231815"/>
<line x1="264.11" y1="530.5" x2="264.11" y2="531.7" stroke="#999" stroke-width="0.4"/>
<text class="sf" x="259.82" y="536.50" font-size="3.2" text-anchor="middle" font-weight="bold" fill="#222"  transform="rotate(0.03 259.82 536.50)">Z</text>
<text class="sf" font-size="7.7" font-weight="bold" text-anchor="middle" transform="translate(42.7,445.4) rotate(-90)" textLength="56.5" lengthAdjust="spacingAndGlyphs">Number of unigenes</text>
<clipPath id="fc"><rect x="130" y="536" width="66.9" height="14"/></clipPath>
<text class="sf" clip-path="url(#fc)" x="137.8" y="544.7" font-size="7.7" font-weight="bold" textLength="64.5" lengthAdjust="spacingAndGlyphs">Function classification</text>
<text class="sf" font-size="5.6" font-weight="bold" x="266.7" y="397.80" textLength="55.20" lengthAdjust="spacingAndGlyphs">A: RNA processing and modification</text>
<text class="sf" font-size="5.6" font-weight="bold" x="266.7" y="403.57" textLength="58.10" lengthAdjust="spacingAndGlyphs">B: Chromatin structure and dynamics</text>
<text class="sf" font-size="5.6" font-weight="bold" x="266.7" y="409.35" textLength="48.40" lengthAdjust="spacingAndGlyphs">C: Energy production and conv</text>
<text class="sf" font-size="5.6" font-weight="bold" x="266.7" y="415.12" textLength="90.80" lengthAdjust="spacingAndGlyphs">D: Cell cycle control, cell division, chromosome partitioning</text>
<text class="sf" font-size="5.6" font-weight="bold" x="266.7" y="420.90" textLength="62.00" lengthAdjust="spacingAndGlyphs">E: Amino acid transport and metabolism</text>
<text class="sf" font-size="5.6" font-weight="bold" x="266.7" y="426.68" textLength="60.30" lengthAdjust="spacingAndGlyphs">F: Nucleotide transport and metabolism</text>
<text class="sf" font-size="5.6" font-weight="bold" x="266.7" y="432.45" textLength="66.10" lengthAdjust="spacingAndGlyphs">G: Carbohydrate transport and metabolism</text>
<text class="sf" font-size="5.6" font-weight="bold" x="266.7" y="438.23" textLength="60.30" lengthAdjust="spacingAndGlyphs">H: Coenzyme transport and metabolism</text>
<text class="sf" font-size="5.6" font-weight="bold" x="266.7" y="444.00" textLength="51.90" lengthAdjust="spacingAndGlyphs">I: Lipid transport and metabolism</text>
<text class="sf" font-size="5.6" font-weight="bold" x="266.7" y="449.78" textLength="75.50" lengthAdjust="spacingAndGlyphs">J: Translation, ribosomal structure and biogenesis</text>
<text class="sf" font-size="5.6" font-weight="bold" x="266.7" y="455.55" textLength="23.50" lengthAdjust="spacingAndGlyphs">K: Transcription</text>
<text class="sf" font-size="5.6" font-weight="bold" x="266.7" y="461.32" textLength="62.40" lengthAdjust="spacingAndGlyphs">L: Replication, recombination and repair</text>
<text class="sf" font-size="5.6" font-weight="bold" x="266.7" y="467.10" textLength="66.30" lengthAdjust="spacingAndGlyphs">M: Cell wall/membrane/envelope biogenesis</text>
<text class="sf" font-size="5.6" font-weight="bold" x="266.7" y="472.88" textLength="23.70" lengthAdjust="spacingAndGlyphs">N: Cell motility</text>
<text class="sf" font-size="5.6" font-weight="bold" x="266.7" y="478.65" textLength="92.60" lengthAdjust="spacingAndGlyphs">O: Posttranslational modification, protein turnover, chaperones</text>
<text class="sf" font-size="5.6" font-weight="bold" x="266.7" y="484.43" textLength="65.20" lengthAdjust="spacingAndGlyphs">P: Inorganic ion transport and metabolism</text>
<text class="sf" font-size="5.6" font-weight="bold" x="266.7" y="490.20" textLength="98.10" lengthAdjust="spacingAndGlyphs">Q: Secondary metabolites biosynthesis, transport and catabolism</text>
<text class="sf" font-size="5.6" font-weight="bold" x="266.7" y="495.98" textLength="53.90" lengthAdjust="spacingAndGlyphs">R: General function prediction only</text>
<text class="sf" font-size="5.6" font-weight="bold" x="266.7" y="501.75" textLength="30.70" lengthAdjust="spacingAndGlyphs">S: Function unknown</text>
<text class="sf" font-size="5.6" font-weight="bold" x="266.7" y="507.53" textLength="52.90" lengthAdjust="spacingAndGlyphs">T: Signal transduction mechanisms</text>
<text class="sf" font-size="5.6" font-weight="bold" x="266.7" y="513.30" textLength="93.30" lengthAdjust="spacingAndGlyphs">U: Intracellular trafficking, secretion, and vesicular transport</text>
<text class="sf" font-size="5.6" font-weight="bold" x="266.7" y="519.07" textLength="33.60" lengthAdjust="spacingAndGlyphs">V: Defense mechanisms</text>
<text class="sf" font-size="5.6" font-weight="bold" x="266.7" y="524.85" textLength="30.70" lengthAdjust="spacingAndGlyphs">Y: Nuclear structure</text>
<text class="sf" font-size="5.6" font-weight="bold" x="266.7" y="530.62" textLength="24.30" lengthAdjust="spacingAndGlyphs">Z: Cytoskeleton</text>
</svg>
</body></html>
